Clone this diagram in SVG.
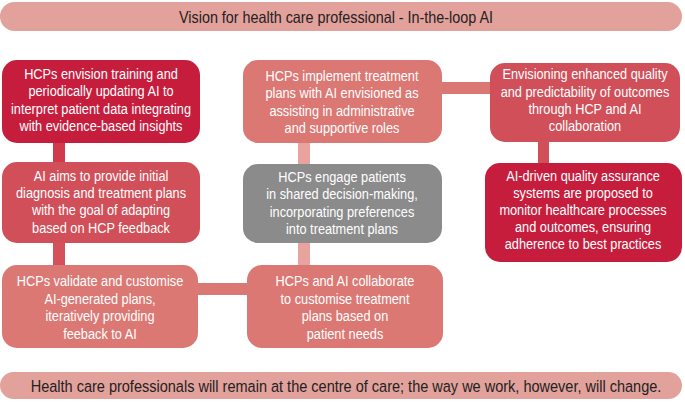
<svg xmlns="http://www.w3.org/2000/svg" width="685" height="402" viewBox="0 0 685 402">
<style>
.t{font-family:"Liberation Sans",Arial,sans-serif;font-size:14.5px;fill:#ffffff;text-anchor:middle}
.b{font-family:"Liberation Sans",Arial,sans-serif;font-size:16.5px;fill:#222222;text-anchor:middle}
.crim{fill:#c71d3d}
.med{fill:#d14f59}
.sal{fill:#dc7873}
.gray{fill:#8b8b8b}
.ban{fill:#e3a19b}
</style>
<rect width="685" height="402" fill="#ffffff"/>
<g id="title">
<rect class="ban" x="0" y="2" width="682" height="29" rx="14.5"/>
<g transform="translate(336,22.5) scale(0.87,1)"><text class="b" x="0" y="0">Vision for health care professional - In-the-loop AI</text></g>
</g>
<g id="connectors">
<rect x="53" y="140" width="12" height="26" fill="#cf3a4c"/>
<rect x="53" y="240" width="12" height="28" fill="#d4505a"/>
<rect x="195" y="283" width="56" height="12" fill="#dc7873"/>
<rect x="298" y="140" width="12" height="28" fill="#e8a39f"/>
<rect x="298" y="240" width="12" height="28" fill="#e8a39f"/>
<rect x="439" y="82" width="54" height="12" fill="#dc7873"/>
<rect x="538" y="140" width="11" height="26" fill="#d14f59"/>
</g>
<g id="n1">
<rect class="crim" x="2" y="60" width="198" height="83" rx="15"/>
<g transform="translate(101,0) scale(0.88,1)" class="t">
<text x="0" y="79">HCPs envision training and</text>
<text x="0" y="96.5">periodically updating AI to</text>
<text x="0" y="114">interpret patient data integrating</text>
<text x="0" y="131.5">with evidence-based insights</text>
</g>
</g>
<g id="n2">
<rect class="med" x="2" y="162" width="198" height="81" rx="15"/>
<g transform="translate(101,0) scale(0.88,1)" class="t">
<text x="0" y="181.5">AI aims to provide initial</text>
<text x="0" y="198.5">diagnosis and treatment plans</text>
<text x="0" y="215.5">with the goal of adapting</text>
<text x="0" y="233">based on HCP feedback</text>
</g>
</g>
<g id="n3">
<rect class="sal" x="243" y="60" width="199" height="83" rx="15"/>
<g transform="translate(342,0) scale(0.88,1)" class="t">
<text x="0" y="81">HCPs implement treatment</text>
<text x="0" y="98.5">plans with AI envisioned as</text>
<text x="0" y="116">assisting in administrative</text>
<text x="0" y="133.5">and supportive roles</text>
</g>
</g>
<g id="n4">
<rect class="gray" x="243" y="164" width="199" height="79" rx="15"/>
<g transform="translate(342,0) scale(0.88,1)" class="t">
<text x="0" y="182">HCPs engage patients</text>
<text x="0" y="199.5">in shared decision-making,</text>
<text x="0" y="217">incorporating preferences</text>
<text x="0" y="234.5">into treatment plans</text>
</g>
</g>
<g id="n5">
<rect class="sal" x="2" y="265" width="196" height="83" rx="15"/>
<g transform="translate(100,0) scale(0.88,1)" class="t">
<text x="0" y="286.5">HCPs validate and customise</text>
<text x="0" y="304">AI-generated plans,</text>
<text x="0" y="321.5">iteratively providing</text>
<text x="0" y="339">feeback to AI</text>
</g>
</g>
<g id="n6">
<rect class="sal" x="247" y="265" width="196" height="83" rx="15"/>
<g transform="translate(345,0) scale(0.88,1)" class="t">
<text x="0" y="286.5">HCPs and AI collaborate</text>
<text x="0" y="304">to customise treatment</text>
<text x="0" y="321.5">plans based on</text>
<text x="0" y="339">patient needs</text>
</g>
</g>
<g id="n7">
<rect class="med" x="490" y="63" width="190" height="79" rx="15"/>
<g transform="translate(585,0) scale(0.88,1)" class="t">
<text x="0" y="79.5">Envisioning enhanced quality</text>
<text x="0" y="97">and predictability of outcomes</text>
<text x="0" y="114">through HCP and AI</text>
<text x="0" y="131.5">collaboration</text>
</g>
</g>
<g id="n8">
<rect class="crim" x="485" y="163" width="197" height="99" rx="15"/>
<g transform="translate(583,0) scale(0.88,1)" class="t">
<text x="0" y="181.5">AI-driven quality assurance</text>
<text x="0" y="198.5">systems are proposed to</text>
<text x="0" y="215.5">monitor healthcare processes</text>
<text x="0" y="232.5">and outcomes, ensuring</text>
<text x="0" y="249.5">adherence to best practices</text>
</g>
</g>
<g id="footer">
<rect class="ban" x="0" y="372" width="682" height="27" rx="13.5"/>
<g transform="translate(346,391.5) scale(0.88,1)"><text class="b" x="0" y="0">Health care professionals will remain at the centre of care; the way we work, however, will change.</text></g>
</g>
</svg>
